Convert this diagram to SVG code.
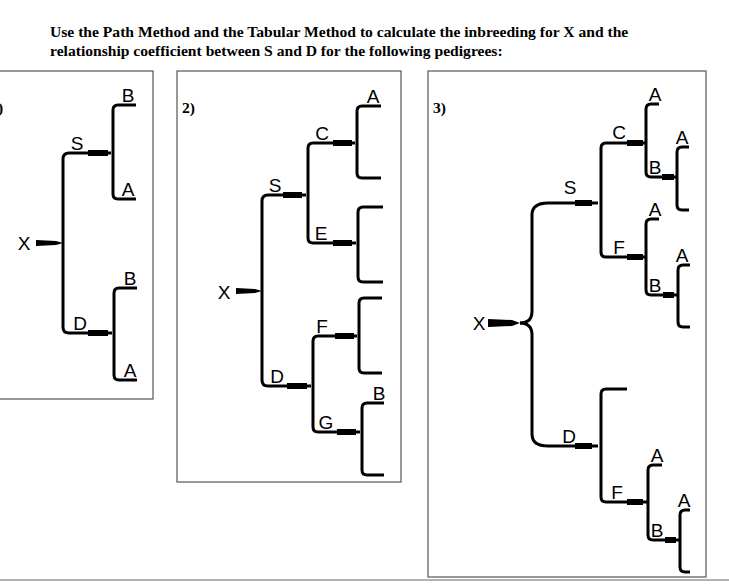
<svg xmlns="http://www.w3.org/2000/svg" width="729" height="584" viewBox="0 0 729 584">
<style>
.box{fill:#fff;stroke:#555;stroke-width:1.2}
.e{fill:none;stroke:#000;stroke-width:3;stroke-linejoin:round}
.t{stroke:#000;stroke-width:6}
.lb{font-family:"Liberation Sans",Arial,sans-serif;font-size:19px;text-anchor:middle}
.h{font-family:"Liberation Serif","Times New Roman",serif;font-weight:bold;font-size:15.6px}
</style>
<rect width="729" height="584" fill="#fff"/>
<text class="h" x="50" y="37">Use the Path Method and the Tabular Method to calculate the inbreeding for X and the</text>
<text class="h" x="50" y="56">relationship coefficient between S and D for the following pedigrees:</text>
<rect class="box" x="-2" y="71" width="155" height="328"/>
<rect class="box" x="177" y="71" width="224" height="411"/>
<rect class="box" x="428" y="71" width="278" height="506"/>
<line x1="0" y1="580" x2="729" y2="580" stroke="#999" stroke-width="1.5"/>
<text class="h" x="-2" y="113">)</text>
<text class="h" x="182" y="113">2)</text>
<text class="h" x="433" y="113">3)</text>
<g id="connectors">
<!-- panel 1 -->
<polygon points="36,240 56,241 63,243 56,245 36,246"/>
<path class="e" d="M111,153 H69 Q63,153 63,159 V327 Q63,333 69,333 H112"/>
<line class="t" x1="88" y1="153" x2="108" y2="153"/><line class="t" x1="88" y1="333" x2="108" y2="333"/>
<path class="e" d="M136,105 H118 Q113,105 113,110 V194 Q113,199 118,199 H136"/>
<path class="e" d="M137,288 H119 Q114,288 114,293 V375 Q114,380 119,380 H137"/>
<!-- panel 2 -->
<polygon points="236,288 255,289 262,291 255,293 236,294"/>
<path class="e" d="M306,195 H268 Q262,195 262,201 V380 Q262,386 268,386 H311"/>
<line class="t" x1="283" y1="195" x2="302" y2="195"/><line class="t" x1="287" y1="386" x2="307" y2="386"/>
<path class="e" d="M355,143 H313 Q308,143 308,148 V238 Q308,243 313,243 H356"/>
<line class="t" x1="333" y1="143" x2="352" y2="143"/><line class="t" x1="333" y1="243" x2="352" y2="243"/>
<path class="e" d="M381,106 H362 Q357,106 357,111 V173 Q357,178 362,178 H381"/>
<path class="e" d="M383,207 H363 Q358,207 358,212 V277 Q358,282 363,282 H383"/>
<path class="e" d="M357,336 H318 Q313,336 313,341 V427 Q313,432 318,432 H360"/>
<line class="t" x1="335" y1="336" x2="354" y2="336"/><line class="t" x1="337" y1="432" x2="356" y2="432"/>
<path class="e" d="M382,298 H364 Q359,298 359,303 V368 Q359,373 364,373 H382"/>
<path class="e" d="M384,403 H367 Q362,403 362,408 V470 Q362,475 367,475 H384"/>
<!-- panel 3 -->
<polygon points="488,319 512,320 520,323 512,326 488,327"/>
<path class="e" d="M520,323 Q532,323 532,311 V215 Q532,203 548,203 H598"/>
<path class="e" d="M520,323 Q532,323 532,335 V434 Q532,446 548,446 H598"/>
<line class="t" x1="575" y1="203" x2="592" y2="203"/><line class="t" x1="575" y1="446" x2="592" y2="446"/>
<path class="e" d="M645,143 H606 Q601,143 601,148 V252 Q601,257 606,257 H645"/>
<line class="t" x1="627" y1="143" x2="643" y2="143"/><line class="t" x1="627" y1="257" x2="643" y2="257"/>
<path class="e" d="M659,104 H651 Q646,104 646,109 V172 Q646,177 651,177 H677"/>
<line class="t" x1="662" y1="177" x2="674" y2="177"/>
<path class="e" d="M689,147 H682 Q677,147 677,152 V205 Q677,210 682,210 H689"/>
<path class="e" d="M659,219 H651 Q646,219 646,224 V290 Q646,295 651,295 H678"/>
<line class="t" x1="663" y1="295" x2="674" y2="295"/>
<path class="e" d="M690,265 H683 Q678,265 678,270 V322 Q678,327 683,327 H690"/>
<path class="e" d="M627,389 H606 Q601,389 601,394 V497 Q601,502 606,502 H647"/>
<line class="t" x1="627" y1="502" x2="643" y2="502"/>
<path class="e" d="M662,465 H653 Q648,465 648,470 V535 Q648,540 653,540 H680"/>
<line class="t" x1="665" y1="540" x2="676" y2="540"/>
<path class="e" d="M690,510 H685 Q680,510 680,515 V567 Q680,572 685,572 H690"/>
</g>
<g id="p1-X"><text class="lb" x="24" y="250">X</text></g>
<g id="p1-S"><text class="lb" x="77" y="150">S</text></g>
<g id="p1-D"><text class="lb" x="80" y="330">D</text></g>
<g id="p1-B1"><text class="lb" x="128" y="102">B</text></g>
<g id="p1-A1"><text class="lb" x="128" y="196">A</text></g>
<g id="p1-B2"><text class="lb" x="130" y="285">B</text></g>
<g id="p1-A2"><text class="lb" x="130" y="377">A</text></g>
<g id="p2-X"><text class="lb" x="224" y="299">X</text></g>
<g id="p2-S"><text class="lb" x="275" y="192">S</text></g>
<g id="p2-C"><text class="lb" x="322" y="140">C</text></g>
<g id="p2-A"><text class="lb" x="373" y="103">A</text></g>
<g id="p2-E"><text class="lb" x="321" y="240">E</text></g>
<g id="p2-D"><text class="lb" x="277" y="383">D</text></g>
<g id="p2-F"><text class="lb" x="322" y="333">F</text></g>
<g id="p2-G"><text class="lb" x="326" y="429">G</text></g>
<g id="p2-B"><text class="lb" x="379" y="400">B</text></g>
<g id="p3-X"><text class="lb" x="479" y="330">X</text></g>
<g id="p3-S"><text class="lb" x="570" y="194">S</text></g>
<g id="p3-C"><text class="lb" x="619" y="139">C</text></g>
<g id="p3-A1"><text class="lb" x="655" y="101">A</text></g>
<g id="p3-B1"><text class="lb" x="655" y="174">B</text></g>
<g id="p3-A2"><text class="lb" x="682" y="144">A</text></g>
<g id="p3-F1"><text class="lb" x="619" y="254">F</text></g>
<g id="p3-A3"><text class="lb" x="655" y="216">A</text></g>
<g id="p3-B2"><text class="lb" x="655" y="292">B</text></g>
<g id="p3-A4"><text class="lb" x="682" y="262">A</text></g>
<g id="p3-D"><text class="lb" x="569" y="443">D</text></g>
<g id="p3-F2"><text class="lb" x="617" y="499">F</text></g>
<g id="p3-A5"><text class="lb" x="657" y="462">A</text></g>
<g id="p3-B3"><text class="lb" x="657" y="537">B</text></g>
<g id="p3-A6"><text class="lb" x="684" y="507">A</text></g>
</svg>
